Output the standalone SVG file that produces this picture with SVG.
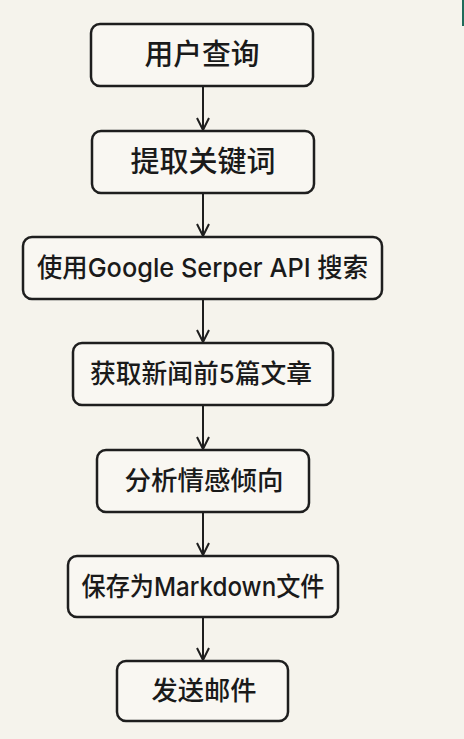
<svg xmlns="http://www.w3.org/2000/svg" width="464" height="739" viewBox="0 0 464 739">
<style>
.box{fill:#f9f7f2;stroke:#1e1e1e;stroke-width:2.5}
.lbl{font-family:Inter,"Noto Sans CJK SC","Noto Sans",sans-serif;font-weight:500;fill:#1a1a1a;text-anchor:middle}
.con{stroke:#1e1e1e;stroke-width:2;fill:none}
</style>
<defs>
<marker id="arr" markerUnits="userSpaceOnUse" markerWidth="16" markerHeight="16" refX="13" refY="8" orient="auto" viewBox="0 0 16 16">
<path d="M1,2 L13,8 L1,14" fill="none" stroke="#1e1e1e" stroke-width="2"/>
</marker>
</defs>
<rect width="464" height="739" fill="#f5f3ec"/>
<rect x="462" y="0" width="2" height="26" fill="#1f6b5a"/>
<g id="connectors">
<line class="con" x1="203" y1="86" x2="203" y2="130" marker-end="url(#arr)"/>
<line class="con" x1="203" y1="193" x2="203" y2="236" marker-end="url(#arr)"/>
<line class="con" x1="203" y1="299" x2="203" y2="342" marker-end="url(#arr)"/>
<line class="con" x1="203" y1="405" x2="203" y2="449" marker-end="url(#arr)"/>
<line class="con" x1="203" y1="512" x2="203" y2="555" marker-end="url(#arr)"/>
<line class="con" x1="203" y1="617" x2="203" y2="660" marker-end="url(#arr)"/>
</g>
<g id="n1">
<rect class="box" x="91" y="24" width="222" height="62" rx="9"/>
<text class="lbl" x="202" y="65" font-size="29" textLength="115" lengthAdjust="spacingAndGlyphs">用户查询</text>
</g>
<g id="n2">
<rect class="box" x="92" y="131" width="222" height="62" rx="9"/>
<text class="lbl" x="203" y="172" font-size="29" textLength="145" lengthAdjust="spacingAndGlyphs">提取关键词</text>
</g>
<g id="n3">
<rect class="box" x="23" y="237" width="359" height="62" rx="9"/>
<text class="lbl" x="202.5" y="277" font-size="26" textLength="331" lengthAdjust="spacingAndGlyphs">使用Google Serper API 搜索</text>
</g>
<g id="n4">
<rect class="box" x="73" y="343" width="260" height="62" rx="9"/>
<text class="lbl" x="201" y="383" font-size="26" textLength="222" lengthAdjust="spacingAndGlyphs">获取新闻前5篇文章</text>
</g>
<g id="n5">
<rect class="box" x="97" y="450" width="212" height="62" rx="9"/>
<text class="lbl" x="204" y="490" font-size="26.5" textLength="159" lengthAdjust="spacingAndGlyphs">分析情感倾向</text>
</g>
<g id="n6">
<rect class="box" x="68" y="556" width="270" height="61" rx="9"/>
<text class="lbl" x="203" y="596" font-size="26" textLength="243" lengthAdjust="spacingAndGlyphs">保存为Markdown文件</text>
</g>
<g id="n7">
<rect class="box" x="117" y="661" width="171" height="60" rx="9"/>
<text class="lbl" x="204" y="700" font-size="26" textLength="105" lengthAdjust="spacingAndGlyphs">发送邮件</text>
</g>
</svg>
